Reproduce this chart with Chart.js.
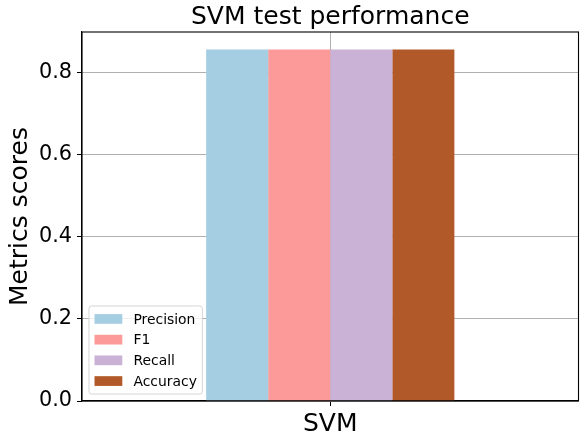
<!DOCTYPE html>
<html>
<head>
<meta charset="utf-8">
<script src="https://cdn.jsdelivr.net/npm/chart.js@4/dist/chart.umd.min.js"></script>
<style>
  html, body { margin: 0; padding: 0; background: #fff; }
  #wrap { width: 587px; height: 442px; }
</style>
</head>
<body>
<div id="wrap"><canvas id="c" width="587" height="442"></canvas></div>
<script>
const categories = ['SVM'];
const seriesNames = ['Precision', 'F1', 'Recall', 'Accuracy'];
const precision = [0.856];
const f1 = [0.856];
const recall = [0.856];
const accuracy = [0.856];
const yTicks = [0.0, 0.2, 0.4, 0.6, 0.8];
const colors = ['#a6cee3', '#fb9a99', '#cab2d6', '#b15928'];
const chartTitle = 'SVM test performance';

const FONT = 'DejaVu Sans';
const seriesValues = [precision, f1, recall, accuracy];
const yMax = Math.max(...seriesValues.flat()) * 1.05;

const framePlugin = {
  id: 'frameAndLegend',
  afterDraw(chart) {
    const ctx = chart.ctx;
    const a = chart.chartArea;
    ctx.save();
    // title centred over the axes
    ctx.font = '25px "' + FONT + '"';
    ctx.fillStyle = '#000';
    ctx.textAlign = 'center';
    ctx.textBaseline = 'alphabetic';
    ctx.fillText(chartTitle, (a.left + a.right) / 2, a.top - 8);
    // legend (lower left, inside axes)
    const fs = 13.9;
    ctx.font = fs + 'px "' + FONT + '"';
    const ds = chart.data.datasets;
    let maxW = 0;
    ds.forEach(d => { maxW = Math.max(maxW, ctx.measureText(d.label).width); });
    const pad = 0.4 * fs, handleL = 2 * fs, handleH = 0.7 * fs, gap = 0.8 * fs;
    const rowH = 20.7, edge = 13;
    const w = pad + handleL + gap + maxW + pad;
    const h = 2 * edge + (ds.length - 1) * rowH;
    const bx = a.left + 0.5 * fs;
    const by = a.bottom - 0.5 * fs - h;
    const r = 0.2 * fs;
    ctx.beginPath();
    ctx.moveTo(bx + r, by);
    ctx.lineTo(bx + w - r, by);
    ctx.quadraticCurveTo(bx + w, by, bx + w, by + r);
    ctx.lineTo(bx + w, by + h - r);
    ctx.quadraticCurveTo(bx + w, by + h, bx + w - r, by + h);
    ctx.lineTo(bx + r, by + h);
    ctx.quadraticCurveTo(bx, by + h, bx, by + h - r);
    ctx.lineTo(bx, by + r);
    ctx.quadraticCurveTo(bx, by, bx + r, by);
    ctx.closePath();
    ctx.fillStyle = 'rgba(255,255,255,0.8)';
    ctx.fill();
    ctx.strokeStyle = 'rgba(204,204,204,0.8)';
    ctx.lineWidth = 1;
    ctx.stroke();
    ctx.textBaseline = 'middle';
    ctx.textAlign = 'left';
    ds.forEach((d, i) => {
      const cy = by + edge + i * rowH;
      ctx.fillStyle = d.backgroundColor;
      ctx.fillRect(bx + pad, cy - handleH / 2, handleL, handleH);
      ctx.fillStyle = '#000';
      ctx.fillText(d.label, bx + pad + handleL + gap, cy + 1);
    });
    // frame
    ctx.strokeStyle = '#000';
    ctx.lineWidth = 1.1;
    ctx.strokeRect(a.left, a.top, a.right - a.left, a.bottom - a.top);
    ctx.restore();
  }
};

new Chart(document.getElementById('c'), {
  type: 'bar',
  data: {
    labels: categories,
    datasets: seriesNames.map((name, i) => ({
      label: name,
      data: seriesValues[i],
      backgroundColor: colors[i],
      borderWidth: 0,
      categoryPercentage: 0.5,
      barPercentage: 1.0
    }))
  },
  options: {
    responsive: false,
    animation: false,
    devicePixelRatio: 1,
    layout: { padding: { left: 0, right: 8.5, top: 32, bottom: 0 } },
    plugins: {
      legend: { display: false },
      tooltip: { enabled: false },
      title: { display: false }
    },
    scales: {
      x: {
        z: 1,
        afterFit: s => { s.height = 41; },
        grid: { offset: false, color: '#b0b0b0', lineWidth: 1, tickColor: '#000', tickLength: 5, drawTicks: true },
        border: { color: '#000', width: 1.1 },
        ticks: { color: '#000', font: { family: FONT, size: 25 }, padding: 3 }
      },
      y: {
        z: 1,
        min: 0,
        max: yMax,
        afterFit: s => { s.width = 82; },
        afterBuildTicks: s => { s.ticks = yTicks.map(v => ({ value: v })); },
        grid: { color: '#b0b0b0', lineWidth: 1, tickColor: '#000', tickLength: 5, drawTicks: true },
        border: { color: '#000', width: 1.1 },
        ticks: { color: '#000', font: { family: FONT, size: 20.8 }, padding: 5, callback: v => Number(v).toFixed(1) },
        title: { display: true, text: 'Metrics scores', color: '#000', font: { family: FONT, size: 25 }, padding: { top: 5, bottom: 0 } }
      }
    }
  },
  plugins: [framePlugin]
});
</script>
</body>
</html>
